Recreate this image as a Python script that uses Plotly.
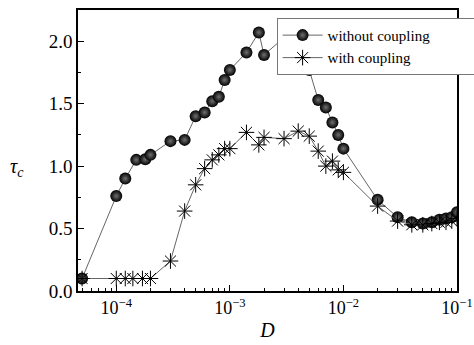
import plotly.graph_objects as go

# Data
D_without = [5e-5, 1e-4, 1.2e-4, 1.5e-4, 1.8e-4, 2e-4, 3e-4, 4e-4, 5e-4, 6e-4, 7e-4, 8e-4, 9e-4,
             1e-3, 1.4e-3, 1.8e-3, 2e-3, 3e-3, 4e-3, 5e-3, 6e-3, 7e-3, 8e-3, 9e-3,
             1e-2, 2e-2, 3e-2, 4e-2, 5e-2, 6e-2, 7e-2, 8e-2, 9e-2, 1e-1]
tau_without = [0.10, 0.76, 0.90, 1.05, 1.055, 1.09, 1.20, 1.21, 1.40, 1.43, 1.52, 1.555, 1.69,
               1.77, 1.91, 2.07, 1.89, 2.03, 1.81, 1.77, 1.53, 1.47, 1.35, 1.25,
               1.14, 0.73, 0.59, 0.55, 0.54, 0.55, 0.57, 0.58, 0.59, 0.63]

D_with = [5e-5, 1e-4, 1.2e-4, 1.4e-4, 1.7e-4, 2e-4, 3e-4, 4e-4, 5e-4, 6e-4, 7e-4, 8e-4, 9e-4,
          1e-3, 1.4e-3, 1.8e-3, 2e-3, 3e-3, 4e-3, 5e-3, 6e-3, 7e-3, 8e-3, 9e-3,
          1e-2, 2e-2, 3e-2, 4e-2, 5e-2, 6e-2, 7e-2, 8e-2, 9e-2, 1e-1]
tau_with = [0.10, 0.10, 0.10, 0.10, 0.10, 0.10, 0.24, 0.64, 0.85, 0.98, 1.05, 1.09, 1.14,
            1.14, 1.27, 1.17, 1.23, 1.22, 1.28, 1.24, 1.12, 1.00, 1.04, 0.97,
            0.95, 0.68, 0.56, 0.53, 0.53, 0.54, 0.55, 0.55, 0.56, 0.58]

x_tickvals = [1e-4, 1e-3, 1e-2, 1e-1]
x_ticktext = ["10<sup>−4</sup>", "10<sup>−3</sup>", "10<sup>−2</sup>", "10<sup>−1</sup>"]
minor_mult = [2, 3, 4, 5, 6, 7, 8, 9]
minor_decades = [1e-5, 1e-4, 1e-3, 1e-2]
x_minor = [m * d for d in minor_decades for m in minor_mult]

FONT = "Liberation Serif"

fig = go.Figure()
fig.add_trace(go.Scatter(
    x=D_without, y=tau_without, mode="lines+markers", name="without coupling",
    line=dict(color="#666666", width=1),
    marker=dict(symbol="circle", size=12, color="black",
                gradient=dict(type="radial", color="#707070"),
                line=dict(width=0)),
))
fig.add_trace(go.Scatter(
    x=D_with, y=tau_with, mode="lines+markers", name="with coupling",
    line=dict(color="#666666", width=1),
    marker=dict(symbol="asterisk-open", size=13, color="black",
                line=dict(width=1, color="#222222")),
))

fig.update_layout(
    width=474, height=345,
    margin=dict(l=78, r=17, t=10, b=54, autoexpand=False),
    plot_bgcolor="white", paper_bgcolor="white",
    font=dict(family=FONT, size=17, color="black"),
    showlegend=True,
    legend=dict(x=0.524, y=0.972, xanchor="left", yanchor="top",
                orientation="h",
                bgcolor="white", bordercolor="#777777", borderwidth=1,
                font=dict(family=FONT, size=15), tracegroupgap=0,
                itemwidth=40, entrywidth=166, entrywidthmode="pixels"),
    xaxis=dict(
        type="log", range=[-4.337, -1],
        tickmode="array", tickvals=x_tickvals, ticktext=x_ticktext,
        ticks="inside", ticklen=6, tickwidth=1.2, tickcolor="black",
        showline=True, linewidth=1.5, linecolor="black", mirror=True,
        showgrid=False, zeroline=False,
        tickfont=dict(family=FONT, size=18),
        minor=dict(tickmode="array", tickvals=x_minor, ticks="inside",
                   ticklen=3, tickwidth=1, tickcolor="black", showgrid=False),
        title=dict(text="<i>D</i>", font=dict(family=FONT, size=20), standoff=6),
    ),
    yaxis=dict(
        range=[0, 2.25], dtick=0.5, tickformat=".1f",
        ticks="inside", ticklen=6, tickwidth=1.2, tickcolor="black",
        showline=True, linewidth=1.5, linecolor="black", mirror=True,
        showgrid=False, zeroline=False,
        tickfont=dict(family=FONT, size=19),
        minor=dict(dtick=0.25, ticks="inside", ticklen=3, tickwidth=1,
                   tickcolor="black", showgrid=False),
    ),
    annotations=[dict(
        text="<i>τ</i><sub><i>c</i></sub>", xref="paper", yref="paper",
        x=-0.16, y=0.44, xanchor="center", yanchor="middle", showarrow=False,
        font=dict(family=FONT, size=20),
    )],
)

fig.write_html("out.html")
